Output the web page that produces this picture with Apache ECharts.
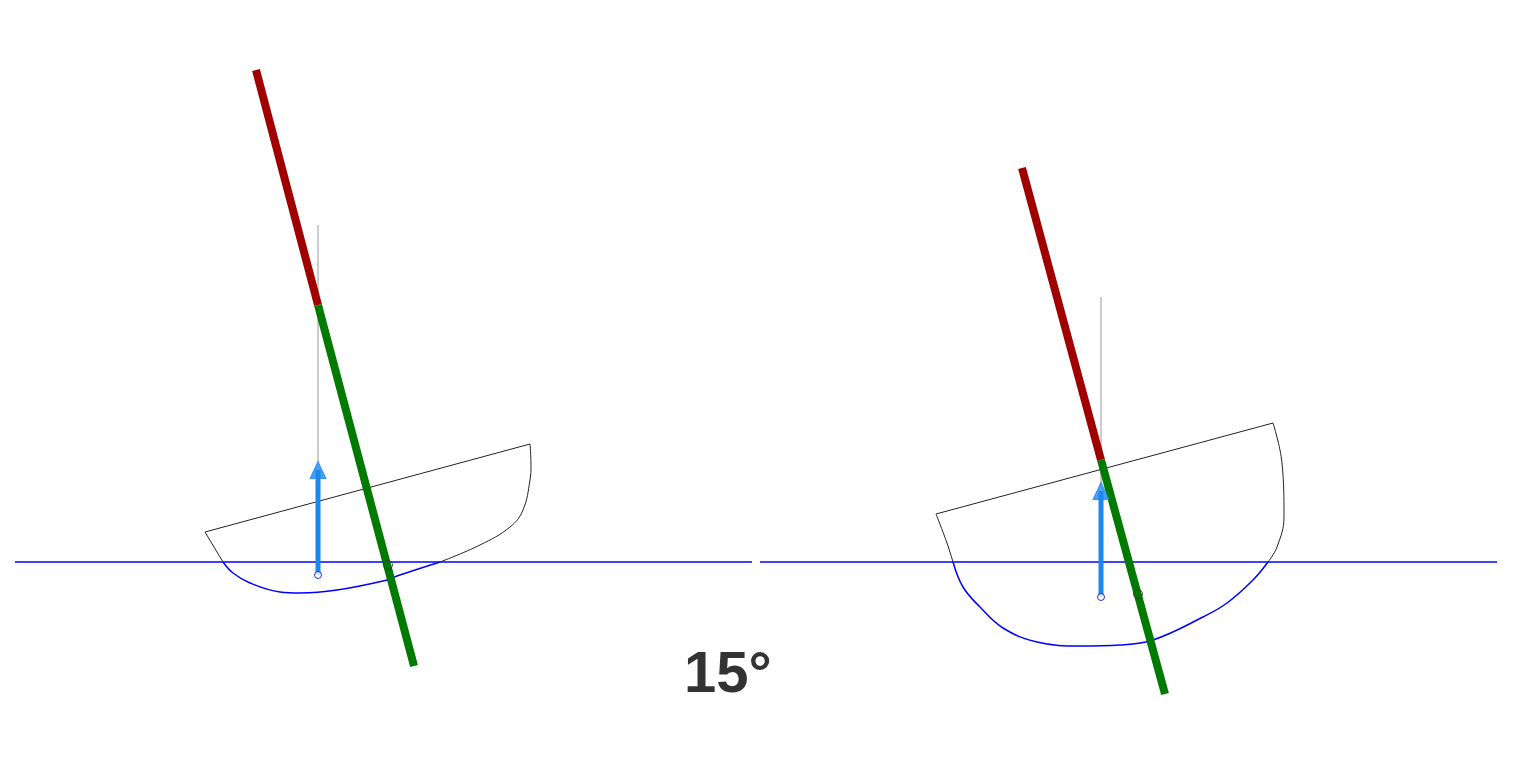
<!DOCTYPE html>
<html><head><meta charset="utf-8">
<script src="https://cdn.jsdelivr.net/npm/echarts@6/dist/echarts.min.js"></script>
<style>html,body{margin:0;padding:0;background:#fff}#c{width:1515px;height:765px}</style>
</head><body><div id="c"></div>
<script>
// Coordinates in drawing units (x right, y down)
const waterLeft = [[15,562],[752,562]];
const waterRight = [[760,562],[1497,562]];
const deckL = [[223,562],[205,532],[530,444]];
const sideL = [[530,444],[531,465],[530,480],[523,510],[510,527],[480,545],[440,562]];
const hullL_below = [[440,562],[397,576],[387,580],[337,590],[300,593],[280,592],[250,583],[233,573],[223,562]];
const mastL_red = [[256,70],[318,305]];
const mastL_green = [[318,305],[414,666]];
const plumbL = [[318,225],[318,462]];
const arrowL = [[318,575],[318,470]];
const tipL = [[318,470]];
const cobL = [[318,575]];
const ptL = [[388,565]];
const deckR = [[936,514],[1273,423]];
const sideR1 = [[953,562],[947,543],[936,514]];
const sideR2 = [[1273,423],[1282,463],[1284,517],[1277,547],[1268,562]];
const hullR_below = [[1268,562],[1253,580],[1227,603],[1203,617],[1153,640],[1120,645],[1080,646],[1037,642],[1003,628],[980,607],[963,587],[953,562]];
const mastR_red = [[1022,168],[1101,460]];
const mastR_green = [[1101,460],[1165,694]];
const plumbR = [[1101,297],[1101,485]];
const arrowR = [[1101,597],[1101,491]];
const tipR = [[1101,491]];
const cobR = [[1101,597]];
const ptR = [[1138,594]];
const angleLabel = '15°';

function line(data,color,width,z,smooth){return {type:'line',data:data,symbol:'none',smooth:smooth||false,silent:true,animation:false,z:z||2,lineStyle:{color:color,width:width}};}
function pts(data,sym,size,fill,stroke,z){return {type:'scatter',data:data,symbol:sym,symbolSize:size,silent:true,animation:false,z:z||5,itemStyle:{color:fill,borderColor:stroke,borderWidth:1}};}

const chart = echarts.init(document.getElementById('c'));
chart.setOption({
  animation:false,
  grid:{left:0,right:0,top:0,bottom:0},
  xAxis:{type:'value',min:0,max:1515,show:false},
  yAxis:{type:'value',min:0,max:765,inverse:true,show:false},
  graphic:[{type:'text',left:684,top:647,style:{text:angleLabel,font:'bold 58px Arial, "Liberation Sans", sans-serif',fill:'#333'}}],
  series:[
    line(waterLeft,'#0000ff',1.3,1), line(waterRight,'#0000ff',1.3,1),
    line(deckL,'#222',1), line(sideL,'#222',1,2,0.4), line(hullL_below,'#0000ff',1.5,2,0.4),
    line(deckR,'#222',1), line(sideR1,'#222',1,2,0.4), line(sideR2,'#222',1,2,0.4), line(hullR_below,'#0000ff',1.5,2,0.4),
    line(plumbL,'#999',1), line(plumbR,'#999',1),
    line(mastL_red,'#a00000',8,3), line(mastL_green,'#007a00',8,3),
    line(mastR_red,'#a00000',8,3), line(mastR_green,'#007a00',8,3),
    line(arrowL,'#1a88f0',5,4), line(arrowR,'#1a88f0',5,4),
    pts(tipL,'triangle',[16,17],'#1a88f0','#1a88f0',6), pts(tipR,'triangle',[16,17],'#1a88f0','#1a88f0',6),
    pts(cobL,'circle',7,'#fff','#0000cc',6), pts(cobR,'circle',7,'#fff','#0000cc',6),
    pts(ptL,'circle',9,'rgba(0,0,0,0)','#333',6), pts(ptR,'circle',9,'rgba(0,0,0,0)','#333',6)
  ]
});
</script></body></html>
